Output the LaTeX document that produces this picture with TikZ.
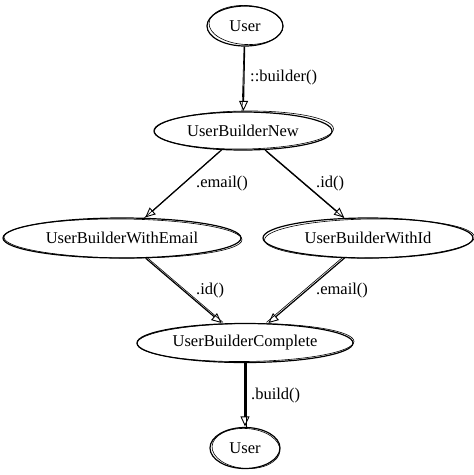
\documentclass[tikz,border=0pt]{standalone}
\usepackage{fontspec}
\setmainfont{Liberation Serif}
\usetikzlibrary{shapes.geometric,arrows.meta}
\tikzset{
  st/.style={ellipse, draw, line width=1.2pt, inner sep=0pt, font=\fontsize{16.5}{19}\selectfont},
  rough/.style={line width=0.6pt},
  edge/.style={line width=1.2pt, -{Triangle[open, length=10pt, width=9pt, line width=0.9pt]}, shorten >=0.5pt},
  edge2/.style={line width=0.6pt},
  lbl/.style={anchor=west, inner sep=0pt, font=\fontsize{16.5}{19}\selectfont}
}
\begin{document}
\begin{tikzpicture}[x=1pt,y=-1pt]
\useasboundingbox (0,0) rectangle (474,475);
\fill[white] (0,0) rectangle (474,475);
% nodes
\node[st, minimum width=76pt, minimum height=40pt] (u1) at (245,26) {User};
\node[st, minimum width=178pt, minimum height=38pt] (ubn) at (243,131) {UserBuilderNew};
\node[st, minimum width=238pt, minimum height=40pt] (ube) at (122,238) {UserBuilderWithEmail};
\node[st, minimum width=210pt, minimum height=40pt] (ubi) at (368,238) {UserBuilderWithId};
\node[st, minimum width=216pt, minimum height=39pt] (ubc) at (245,343) {UserBuilderComplete};
\node[st, minimum width=70pt, minimum height=41pt] (u2) at (245,448) {User};
% second rough strokes
\draw[rough] ([shift={(1,-1)}]u1.center) ellipse [x radius=37, y radius=19.5, rotate=-3];
\draw[rough] ([shift={(1,-1)}]ubn.center) ellipse [x radius=89.5, y radius=19, rotate=0.8];
\draw[rough] ([shift={(1,0.5)}]ube.center) ellipse [x radius=119, y radius=19.5, rotate=-0.6];
\draw[rough] ([shift={(1.5,0.5)}]ubi.center) ellipse [x radius=105, y radius=19.5, rotate=0.8];
\draw[rough] ([shift={(0.5,-0.5)}]ubc.center) ellipse [x radius=108.5, y radius=19, rotate=0.6];
\draw[rough] ([shift={(1,0.5)}]u2.center) ellipse [x radius=34, y radius=20, rotate=-4];
% edges
\draw[edge] (u1) -- (ubn);
\draw[edge] (ubn) -- (ube);
\draw[edge] (ubn) -- (ubi);
\draw[edge] (ube) -- (ubc);
\draw[edge] (ubi) -- (ubc);
\draw[edge] (ubc) -- (u2);
\draw[edge2] ([xshift=-1pt]u1.south) -- ([xshift=-1pt]ubn.north);
\draw[edge2, transform canvas={shift={(-1.5pt,-1pt)}}] (ubn) -- (ube);
\draw[edge2, transform canvas={shift={(1pt,-1.5pt)}}] (ubn) -- (ubi);
\draw[edge2, transform canvas={shift={(1pt,1pt)}}] (ube) -- (ubc);
\draw[edge2, transform canvas={shift={(-1.5pt,1pt)}}] (ubi) -- (ubc);
\draw[edge2] ([xshift=1pt]ubc.south) -- ([xshift=1pt]u2.north);
% labels
\node[lbl] (l1) at (250,78) {::builder()};
\node[lbl] (l2) at (196,184) {.email()};
\node[lbl] (l3) at (316,184) {.id()};
\node[lbl] (l4) at (196,291) {.id()};
\node[lbl] (l5) at (316,291) {.email()};
\node[lbl] (l6) at (251,396) {.build()};
\end{tikzpicture}
\end{document}
